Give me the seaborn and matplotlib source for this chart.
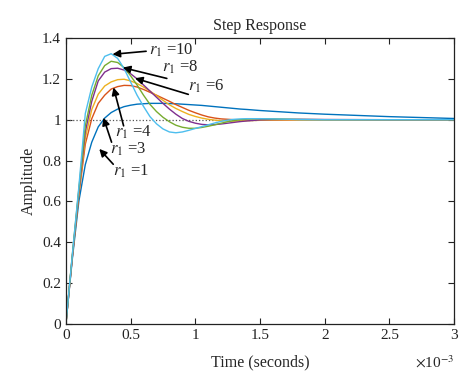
import pandas as pd
import matplotlib.pyplot as plt
import seaborn as sns

# time in ms (axis shows x10^-3 s)
t = [0, 0.05, 0.1, 0.15, 0.2, 0.25, 0.3, 0.35, 0.4, 0.45, 0.5, 0.55, 0.6, 0.65, 0.7,
     0.75, 0.8, 0.85, 0.9, 0.95, 1.0, 1.05, 1.1, 1.15, 1.2, 1.25, 1.3, 1.35, 1.4,
     1.5, 1.6, 1.8, 2.0, 2.5, 3.0]

r1_1 = [0, 0.32, 0.6, 0.78, 0.89, 0.965, 1.008, 1.035, 1.052, 1.064, 1.071, 1.076, 1.078, 1.08, 1.08,
        1.08, 1.079, 1.078, 1.076, 1.074, 1.072, 1.07, 1.067, 1.064, 1.061, 1.058, 1.055, 1.052, 1.05,
        1.045, 1.041, 1.033, 1.027, 1.015, 1.006]
r1_3 = [0, 0.33, 0.63, 0.88, 1.005, 1.08, 1.12, 1.15, 1.162, 1.168, 1.167, 1.16, 1.148, 1.134, 1.12,
        1.105, 1.09, 1.074, 1.06, 1.046, 1.034, 1.023, 1.014, 1.008, 1.004, 1.002, 1.0, 0.999, 0.998,
        0.998, 0.998, 0.999, 1.0, 1.0, 1.0]
r1_4 = [0, 0.33, 0.64, 0.91, 1.05, 1.125, 1.165, 1.185, 1.196, 1.198, 1.19, 1.177, 1.16, 1.14, 1.118,
        1.095, 1.073, 1.055, 1.04, 1.026, 1.016, 1.008, 1.002, 0.998, 0.995, 0.994, 0.993, 0.994, 0.995,
        0.997, 0.999, 1.0, 1.0, 1.0, 1.0]
r1_6 = [0, 0.33, 0.65, 0.94, 1.09, 1.19, 1.233, 1.25, 1.252, 1.243, 1.225, 1.2, 1.17, 1.14, 1.11,
        1.08, 1.052, 1.027, 1.006, 0.992, 0.983, 0.977, 0.975, 0.976, 0.979, 0.983, 0.987, 0.991, 0.994,
        0.999, 1.001, 1.002, 1.001, 1.0, 1.0]
r1_8 = [0, 0.34, 0.66, 0.97, 1.12, 1.215, 1.265, 1.286, 1.28, 1.255, 1.215, 1.17, 1.12, 1.075, 1.04,
        1.012, 0.99, 0.973, 0.963, 0.958, 0.958, 0.962, 0.968, 0.975, 0.983, 0.99, 0.996, 1.0, 1.003,
        1.005, 1.004, 1.001, 1.0, 1.0, 1.0]
r1_10 = [0, 0.34, 0.67, 1.03, 1.16, 1.25, 1.31, 1.323, 1.30, 1.25, 1.185, 1.12, 1.065, 1.015, 0.98,
         0.955, 0.94, 0.936, 0.94, 0.948, 0.957, 0.966, 0.975, 0.984, 0.992, 0.998, 1.002, 1.004, 1.005,
         1.005, 1.004, 1.001, 1.0, 1.0, 1.0]

series = {'1': r1_1, '3': r1_3, '4': r1_4, '6': r1_6, '8': r1_8, '10': r1_10}
colors = ['#0072BD', '#D95319', '#EDB120', '#7E2F8E', '#77AC30', '#4DBEEE']

df = pd.concat([pd.DataFrame({'t': t, 'y': v, 'r1': k}) for k, v in series.items()])

sns.set_style('ticks')
plt.rcParams['font.family'] = ['Liberation Serif', 'DejaVu Serif']
plt.rcParams['mathtext.fontset'] = 'stix'

fig = plt.figure(figsize=(4.74, 3.86), dpi=100)
ax = fig.add_axes([0.139, 0.1606, 0.819, 0.741])

ax.plot([0, 1.48], [1, 1], ls=':', color='#555555', lw=0.9)
sns.lineplot(data=df, x='t', y='y', hue='r1', palette=colors, lw=1.0, legend=False, ax=ax)

ax.set_xlim(0, 3)
ax.set_ylim(0, 1.4)
ax.set_xticks([0, 0.5, 1, 1.5, 2, 2.5, 3])
ax.set_xticklabels(['0', '0.5', '1', '1.5', '2', '2.5', '3'])
ax.set_yticks([0, 0.2, 0.4, 0.6, 0.8, 1, 1.2, 1.4])
ax.set_yticklabels(['0', '0.2', '0.4', '0.6', '0.8', '1', '1.2', '1.4'])
ax.tick_params(direction='in', top=True, right=True, labelsize=11, length=4, width=0.8, colors='#222222')
for s in ax.spines.values():
    s.set_linewidth(0.9)
    s.set_color('#222222')

ax.set_title('Step Response', fontsize=11.5, pad=6)
ax.set_xlabel('Time (seconds)', fontsize=11.5, labelpad=9)
ax.set_ylabel('Amplitude', fontsize=11.5, labelpad=4)
ax.text(1.0, -0.133, r'$\times$10$^{-3}$', transform=ax.transAxes, ha='right', va='center', fontsize=11)

arrow = dict(arrowstyle='-|>', color='black', lw=1.2, mutation_scale=11, shrinkA=0, shrinkB=0)
notes = [
    ('10', (0.36, 1.32), (0.62, 1.335), (0.64, 1.34)),
    ('8', (0.44, 1.255), (0.78, 1.202), (0.74, 1.255)),
    ('6', (0.534, 1.203), (0.946, 1.124), (0.94, 1.162)),
    ('4', (0.368, 1.158), (0.446, 0.97), (0.38, 0.938)),
    ('3', (0.29, 1.01), (0.353, 0.89), (0.34, 0.857)),
    ('1', (0.258, 0.857), (0.366, 0.782), (0.365, 0.746)),
]
for lab, tip, tail, txt in notes:
    ax.annotate('', xy=tip, xytext=tail, arrowprops=arrow)
    ax.text(txt[0], txt[1], r'$r_1$ =' + lab, fontsize=12, va='center', ha='left')

fig.savefig('out.png', dpi=100)
